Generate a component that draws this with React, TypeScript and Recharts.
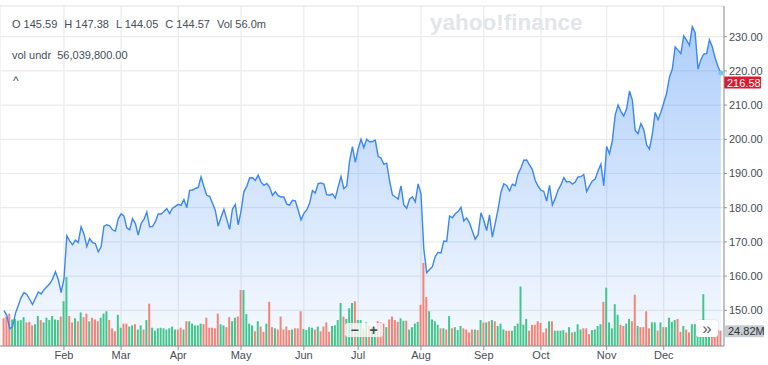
import React from 'react';
import {
  ComposedChart,
  Area,
  Line,
  Bar,
  Cell,
  XAxis,
  YAxis,
  CartesianGrid,
  ReferenceLine,
  ReferenceDot,
} from 'recharts';

const monthNames = ['Jan', 'Feb', 'Mar', 'Apr', 'May', 'Jun', 'Jul', 'Aug', 'Sep', 'Oct', 'Nov', 'Dec'];

// daily closes per month
const janClose = [149.93, 148.47, 144.57, 145.24, 149.1, 151.37, 153.73, 155.18, 154.62, 153.16, 151.71, 153.5, 155.34, 154.78, 156.02, 156.87, 157.75, 159.12, 161.26, 159.0, 155.2];
const febClose = [159.28, 171.81, 170.31, 169.15, 170.53, 169.84, 174.45, 172.34, 168.64, 170.98, 169.8, 169.51, 167.08, 168.59, 174.58, 174.99, 174.73, 173.54, 173.16, 176.76];
const marClose = [178.22, 177.58, 174.12, 173.51, 176.82, 175.35, 171.96, 175.39, 176.56, 178.75, 174.42, 174.48, 175.9, 178.15, 178.15, 178.87, 179.71, 178.3, 179.83, 180.38];
const aprClose = [180.97, 180.69, 182.41, 180.0, 185.07, 185.19, 185.67, 185.95, 189.05, 186.13, 183.62, 183.32, 181.28, 179.22, 174.63, 177.23, 179.54, 176.59, 173.67, 179.62, 180.96, 175.0];
const mayClose = [179.0, 184.72, 186.21, 188.7, 188.76, 188.0, 189.5, 187.48, 186.57, 187.07, 185.99, 183.63, 184.7, 183.54, 183.15, 183.13, 181.05, 180.75, 182.15, 182.02, 179.32, 176.44];
const junClose = [178.34, 179.34, 181.28, 185.0, 184.3, 187.06, 187.23, 186.89, 183.83, 183.66, 184.06, 182.81, 186.1, 189.08, 185.57, 186.34, 193.61, 197.85, 193.25];
const julClose = [197.2, 200.0, 197.59, 200.0, 199.29, 199.34, 199.79, 195.05, 194.49, 192.72, 193.02, 187.93, 183.75, 183.13, 182.55, 186.41, 180.83, 179.85, 182.5, 183.2, 181.71, 186.98];
const augClose = [184.07, 167.9, 161.02, 161.93, 162.77, 165.8, 166.94, 166.8, 170.23, 170.1, 177.59, 177.06, 178.22, 178.88, 180.11, 176.13, 177.04, 175.5, 173.12, 170.8, 172.12, 178.5];
const sepClose = [176.25, 173.33, 177.89, 171.39, 175.4, 179.55, 184.52, 187.0, 186.49, 184.89, 186.88, 186.43, 189.87, 191.6, 193.88, 193.96, 192.53, 191.16, 187.97, 186.33];
const octClose = [185.13, 184.76, 181.96, 186.51, 180.8, 182.72, 185.17, 186.65, 188.82, 187.54, 187.69, 186.89, 187.53, 188.99, 189.07, 189.7, 184.71, 186.38, 187.83, 188.39, 190.83, 192.73, 186.4];
const novClose = [197.93, 195.78, 199.5, 207.09, 210.05, 208.18, 206.84, 208.91, 214.1, 211.48, 202.61, 201.7, 204.61, 202.88, 198.38, 197.12, 201.45, 207.86, 205.74, 207.89];
const decClose = [210.71, 213.44, 218.16, 220.55, 227.03, 226.09, 225.04, 230.26, 228.97, 227.46, 232.93, 231.15, 220.52, 223.29, 224.92, 225.06, 229.05, 227.05, 223.75, 221.3, 219.39];

// daily volume (millions) per month
const janVol = [47, 50, 55, 45, 46, 43, 44, 49, 40, 41, 35, 37, 51, 44, 40, 48, 44, 51, 45, 44, 50];
const febVol = [76, 117, 51, 40, 47, 42, 57, 49, 55, 42, 48, 45, 42, 48, 55, 59, 44, 30, 25, 53];
const marVol = [31, 38, 38, 33, 35, 37, 28, 35, 28, 44, 72, 31, 26, 30, 31, 30, 28, 30, 33, 28];
const aprVol = [28, 31, 28, 42, 42, 38, 35, 35, 38, 37, 48, 31, 31, 30, 55, 37, 35, 32, 49, 42, 48, 50];
const mayVol = [95, 95, 54, 38, 35, 25, 42, 33, 24, 38, 75, 32, 30, 28, 50, 28, 33, 27, 28, 30, 30, 59];
const junVol = [29, 27, 32, 31, 28, 33, 25, 33, 40, 24, 34, 35, 44, 73, 50, 46, 64, 73, 76];
const julVol = [44, 44, 30, 40, 34, 32, 32, 42, 40, 38, 32, 45, 50, 44, 41, 47, 43, 43, 28, 32, 38, 41];
const augVol = [70, 141, 83, 59, 45, 42, 36, 30, 30, 28, 51, 30, 32, 27, 34, 30, 28, 23, 28, 28, 27, 44];
const sepVol = [40, 40, 42, 44, 42, 34, 38, 28, 26, 26, 26, 34, 38, 101, 36, 46, 26, 36, 36, 42];
const octVol = [39, 23, 30, 42, 42, 26, 26, 26, 27, 23, 32, 23, 24, 37, 28, 30, 30, 20, 27, 28, 34, 37, 75];
const novVol = [99, 40, 30, 71, 53, 36, 34, 38, 46, 42, 87, 34, 32, 32, 59, 30, 40, 40, 26, 40];
const decVol = [32, 32, 48, 41, 44, 46, 24, 34, 28, 23, 37, 37, 40, 30, 88, 30, 16, 27, 29, 28, 26];

// g = up (green) bar, r = down (red) bar
const janDir = 'rrrgggggrrrggrggggggr';
const febDir = 'ggrrgrgrrgrrrgggrrrg';
const marDir = 'grrggrggrgrggggggggg';
const aprDir = 'rrgrgggggrrrrrrggrrggr';
const mayDir = 'rggggrgrrgrrgrrrrrgrrr';
const junDir = 'ggggrgrrrrggggrgggr';
const julDir = 'ggrgrggrrrgrrrrggrgggg';
const augDir = 'rrrggggrgrgrgggrrrrgrg';
const sepDir = 'rgrgrgggrrggggggrrrr';
const octDir = 'rrrgrggggrgrgggrrrggggr';
const novDir = 'gggggrrggrrgrrrrggrg';
const decDir = 'rggggrrgrrgggggggrrrr';

const priceTicks = [150, 160, 170, 180, 190, 200, 210, 220, 230];
const lastPrice = 216.58;
const lastVol = 24.82;

const closes = [janClose, febClose, marClose, aprClose, mayClose, junClose, julClose, augClose, sepClose, octClose, novClose, decClose];
const vols = [janVol, febVol, marVol, aprVol, mayVol, junVol, julVol, augVol, sepVol, octVol, novVol, decVol];
const dirs = [janDir, febDir, marDir, aprDir, mayDir, junDir, julDir, augDir, sepDir, octDir, novDir, decDir];

type Row = { i: number; close: number; vol: number; up: boolean; month: number; first: boolean };
const data: Row[] = [];
closes.forEach((arr, m) => {
  arr.forEach((c, j) => {
    data.push({ i: data.length, close: c, vol: vols[m][j], up: dirs[m][j] === 'g', month: m, first: j === 0 });
  });
});
const monthTicks = data.filter((d) => d.first && d.month > 0).map((d) => d.i);
const last = data[data.length - 1];

const PRICE_MIN = 139.56;
const PRICE_MAX = 238.98;
const VOL_MAX = 577;

const GREEN = '#42c68c';
const RED = '#f4847a';
const BLUE = '#3a87f5';
const GRID = '#e9ebee';
const TEXT = '#464e56';
const FONT = '"Liberation Sans", Arial, sans-serif';

const PriceBadge = (props: any) => {
  const { viewBox } = props;
  const x = viewBox.x + viewBox.width;
  const y = viewBox.y;
  return (
    <g>
      <rect x={x} y={y - 6} width={37} height={12} rx={1} fill="#e0182e" />
      <text x={x + 3} y={y + 4} fill="#fff" fontSize={11} fontFamily={FONT}>
        {lastPrice.toFixed(2)}
      </text>
    </g>
  );
};

const VolBadge = (props: any) => {
  const { viewBox } = props;
  const x = viewBox.x + viewBox.width + 1;
  const y = viewBox.y;
  return (
    <g>
      <rect x={x} y={y - 6} width={39} height={12} rx={1} fill="#c9cdd2" />
      <text x={x + 3} y={y + 4} fill="#2c3136" fontSize={11} fontFamily={FONT}>
        {lastVol.toFixed(2)}M
      </text>
    </g>
  );
};

export default function App() {
  return (
    <div style={{ position: 'absolute', left: 0, top: 0, width: 768, height: 365, background: '#fff', fontFamily: FONT }}>
      <ComposedChart width={768} height={365} data={data} margin={{ top: 6, right: 0, left: 0, bottom: 0 }}>
        <defs>
          <linearGradient id="areaFill" x1="0" y1="0" x2="0" y2="1">
            <stop offset="0%" stopColor={BLUE} stopOpacity={0.68} />
            <stop offset="100%" stopColor={BLUE} stopOpacity={0.07} />
          </linearGradient>
        </defs>
        <CartesianGrid yAxisId="price" stroke={GRID} strokeWidth={1.2} />
        <XAxis
          dataKey="i"
          type="number"
          domain={[-1.4, 252.1]}
          ticks={monthTicks}
          interval={0}
          tickFormatter={(v: number) => monthNames[data[v].month]}
          height={19}
          tickSize={4}
          tickMargin={1}
          stroke="#8d949b"
          tick={{ fill: TEXT, fontSize: 11, fontFamily: FONT }}
          allowDataOverflow
        />
        <YAxis
          yAxisId="price"
          orientation="right"
          domain={[PRICE_MIN, PRICE_MAX]}
          ticks={priceTicks}
          interval={0}
          tickFormatter={(v: number) => v.toFixed(2)}
          width={44}
          tickSize={3}
          tickMargin={2}
          stroke="#8d949b"
          tick={{ fill: TEXT, fontSize: 11, fontFamily: FONT, textAnchor: 'start' }}
          allowDataOverflow
        />
        <YAxis yAxisId="vol" hide domain={[0, VOL_MAX]} allowDataOverflow />
        <ReferenceLine yAxisId="price" y={PRICE_MAX} stroke={GRID} strokeWidth={1.2} />
        <Area
          yAxisId="price"
          dataKey="close"
          type="linear"
          stroke="none"
          fill="url(#areaFill)"
          isAnimationActive={false}
          dot={false}
          activeDot={false}
        />
        <Bar yAxisId="vol" dataKey="vol" barSize={2} isAnimationActive={false}>
          {data.map((d) => (
            <Cell key={d.i} fill={d.up ? GREEN : RED} />
          ))}
        </Bar>
        <Line
          yAxisId="price"
          dataKey="close"
          type="linear"
          stroke={BLUE}
          strokeWidth={1.4}
          dot={false}
          activeDot={false}
          isAnimationActive={false}
        />
        <ReferenceDot yAxisId="price" x={last.i} y={last.close} r={2.5} fill="#74c4f6" stroke="none" />
        <ReferenceLine yAxisId="price" y={lastPrice} stroke="none" label={<PriceBadge />} />
        <ReferenceLine yAxisId="vol" y={lastVol} stroke="none" label={<VolBadge />} />
      </ComposedChart>

      <div style={{ position: 'absolute', left: 430, top: 10, fontSize: 22.5, fontWeight: 700, color: '#e3e5e9', letterSpacing: 0 }}>
        yahoo!finance
      </div>

      <div style={{ position: 'absolute', left: 12, top: 18, fontSize: 11, color: TEXT, display: 'flex', gap: 7, whiteSpace: 'nowrap' }}>
        <span>O 145.59</span>
        <span>H 147.38</span>
        <span>L 144.05</span>
        <span>C 144.57</span>
        <span>Vol 56.0m</span>
      </div>
      <div style={{ position: 'absolute', left: 12, top: 49, fontSize: 11, color: TEXT, whiteSpace: 'nowrap' }}>
        vol undr&nbsp; 56,039,800.00
      </div>
      <div style={{ position: 'absolute', left: 13, top: 74, fontSize: 12, color: TEXT }}>^</div>

      <div
        style={{
          position: 'absolute',
          left: 345,
          top: 323,
          width: 38,
          height: 14,
          background: 'rgba(255,255,255,0.75)',
          borderRadius: 3,
          display: 'flex',
          justifyContent: 'space-around',
          alignItems: 'center',
          fontSize: 14,
          fontWeight: 700,
          color: '#4a4f55',
        }}
      >
        <span>−</span>
        <span>+</span>
      </div>
      <div
        style={{
          position: 'absolute',
          left: 696,
          top: 320,
          width: 22,
          height: 17,
          background: '#fff',
          borderRadius: 3,
          boxShadow: '0 0 2px rgba(0,0,0,0.15)',
          display: 'flex',
          justifyContent: 'center',
          alignItems: 'center',
          fontSize: 17,
          color: '#5b6168',
          lineHeight: 1,
        }}
      >
        »
      </div>
    </div>
  );
}
